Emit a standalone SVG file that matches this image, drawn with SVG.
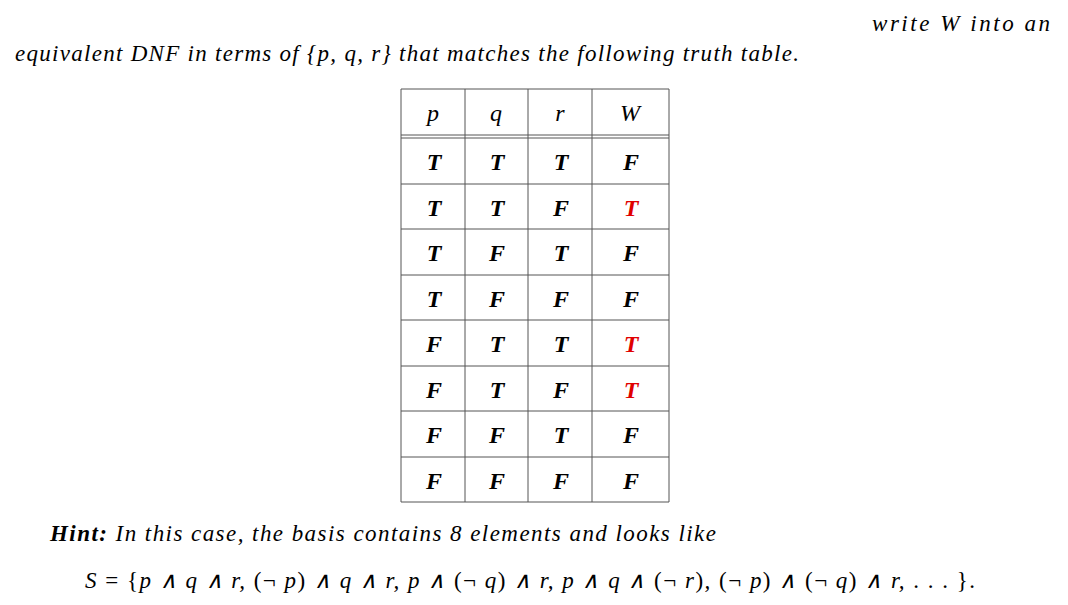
<svg xmlns="http://www.w3.org/2000/svg" width="1068" height="605" viewBox="0 0 1068 605">
<style>
.t{font-family:"Liberation Serif",serif;font-style:italic;font-size:23px;fill:#000}
.c{font-family:"Liberation Serif",serif;font-style:italic;font-size:24px;text-anchor:middle}
.b{font-family:"Liberation Serif",serif;font-style:italic;font-weight:bold;font-size:24px;text-anchor:middle}
.r{fill:#e00000}
line{stroke:#555;stroke-width:1}
</style>
<rect width="1068" height="605" fill="#fff"/>
<text class="t" x="872" y="31" textLength="178" lengthAdjust="spacing">write W into an</text>
<text class="t" x="15" y="61" textLength="784" lengthAdjust="spacing">equivalent DNF in terms of {p, q, r} that matches the following truth table.</text>
<g id="table">
<g>
<line x1="401" y1="89" x2="669" y2="89"/>
<line x1="401" y1="135" x2="669" y2="135"/>
<line x1="401" y1="138" x2="669" y2="138"/>
<line x1="401" y1="184" x2="669" y2="184"/>
<line x1="401" y1="229" x2="669" y2="229"/>
<line x1="401" y1="275" x2="669" y2="275"/>
<line x1="401" y1="320" x2="669" y2="320"/>
<line x1="401" y1="366" x2="669" y2="366"/>
<line x1="401" y1="411" x2="669" y2="411"/>
<line x1="401" y1="457" x2="669" y2="457"/>
<line x1="401" y1="502" x2="669" y2="502"/>
<line x1="401" y1="89" x2="401" y2="502"/>
<line x1="465" y1="89" x2="465" y2="502"/>
<line x1="528" y1="89" x2="528" y2="502"/>
<line x1="592" y1="89" x2="592" y2="502"/>
<line x1="669" y1="89" x2="669" y2="502"/>
</g>
<text class="c" x="433" y="121">p</text><text class="c" x="496" y="121">q</text><text class="c" x="560" y="121">r</text><text class="c" x="630" y="121">W</text>
<g class="rows">
<text class="b" x="434" y="170">T</text><text class="b" x="497" y="170">T</text><text class="b" x="561" y="170">T</text><text class="b" x="631" y="170">F</text>
<text class="b" x="434" y="216">T</text><text class="b" x="497" y="216">T</text><text class="b" x="561" y="216">F</text><text class="b r" x="631" y="216">T</text>
<text class="b" x="434" y="261">T</text><text class="b" x="497" y="261">F</text><text class="b" x="561" y="261">T</text><text class="b" x="631" y="261">F</text>
<text class="b" x="434" y="307">T</text><text class="b" x="497" y="307">F</text><text class="b" x="561" y="307">F</text><text class="b" x="631" y="307">F</text>
<text class="b" x="434" y="352">F</text><text class="b" x="497" y="352">T</text><text class="b" x="561" y="352">T</text><text class="b r" x="631" y="352">T</text>
<text class="b" x="434" y="398">F</text><text class="b" x="497" y="398">T</text><text class="b" x="561" y="398">F</text><text class="b r" x="631" y="398">T</text>
<text class="b" x="434" y="443">F</text><text class="b" x="497" y="443">F</text><text class="b" x="561" y="443">T</text><text class="b" x="631" y="443">F</text>
<text class="b" x="434" y="489">F</text><text class="b" x="497" y="489">F</text><text class="b" x="561" y="489">F</text><text class="b" x="631" y="489">F</text>
</g>
</g>
<text class="t" x="50" y="541" textLength="666" lengthAdjust="spacing"><tspan font-weight="bold">Hint:</tspan> In this case, the basis contains 8 elements and looks like</text>
<text class="t" x="85" y="588" font-size="24" textLength="890" lengthAdjust="spacing">S<tspan font-style="normal"> = {</tspan>p ∧ q ∧ r, <tspan font-style="normal">(¬</tspan> p<tspan font-style="normal">)</tspan> ∧ q ∧ r, p ∧ <tspan font-style="normal">(¬</tspan> q<tspan font-style="normal">)</tspan> ∧ r, p ∧ q ∧ <tspan font-style="normal">(¬</tspan> r<tspan font-style="normal">)</tspan>, <tspan font-style="normal">(¬</tspan> p<tspan font-style="normal">)</tspan> ∧ <tspan font-style="normal">(¬</tspan> q<tspan font-style="normal">)</tspan> ∧ r, <tspan font-style="normal">. . . }.</tspan></text>
</svg>
